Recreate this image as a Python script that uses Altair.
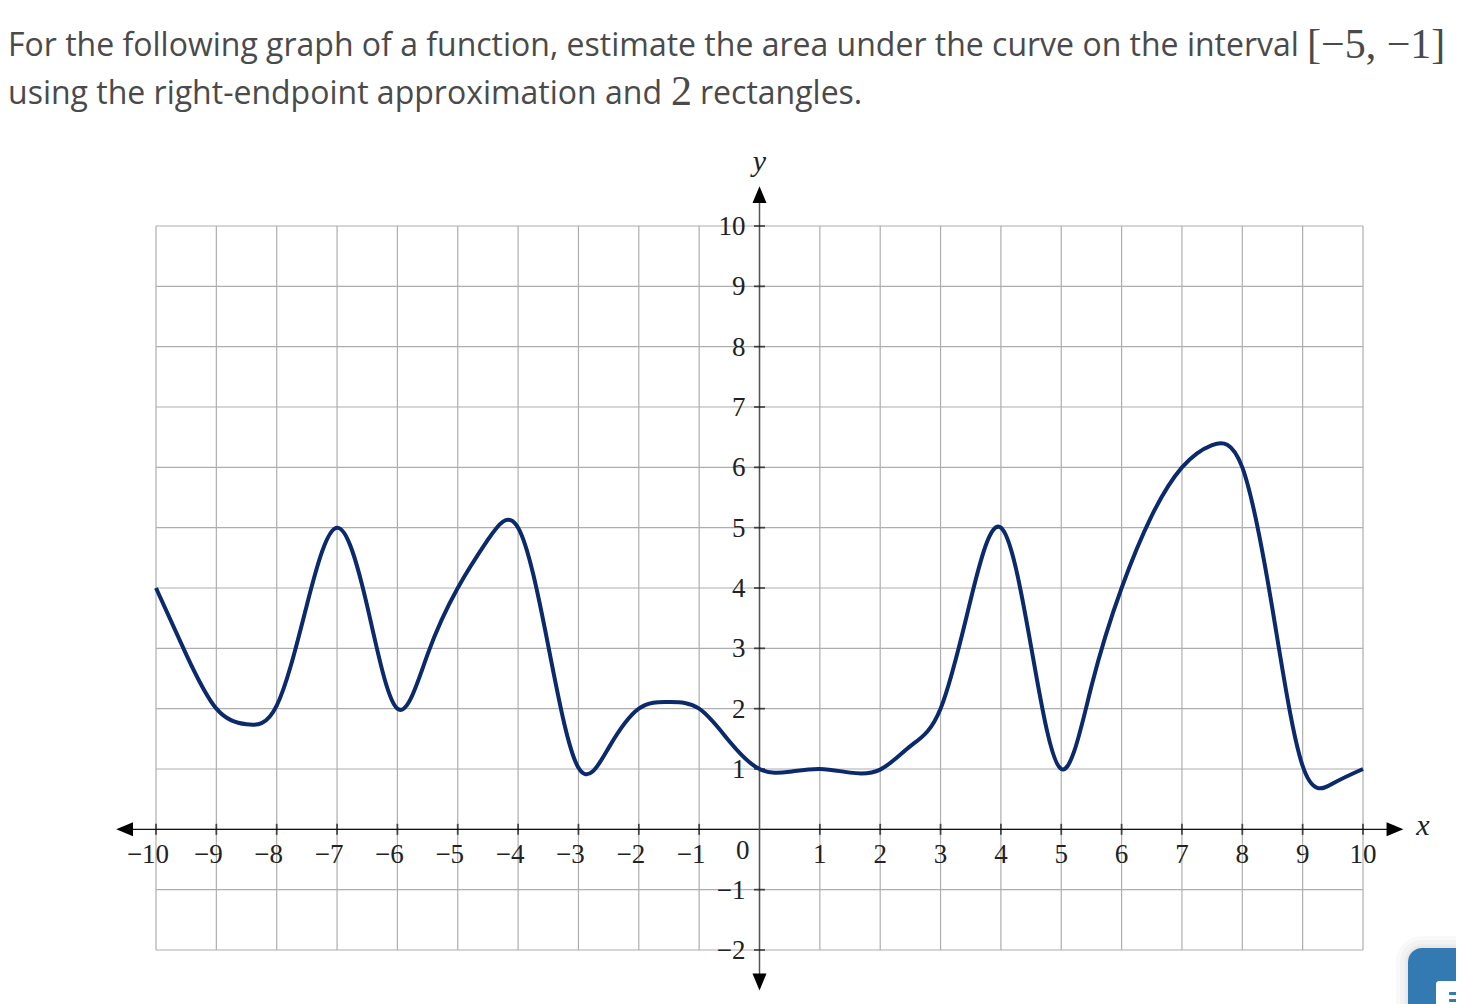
import altair as alt
import pandas as pd

curve_x = [-10, -9.5, -9, -8.5, -8, -7.5, -7, -6.5, -6, -5.5, -5, -4.5, -4, -3.5, -3, -2.5, -2, -1.5, -1, -0.5,
           0, 0.5, 1, 1.5, 2, 2.5, 3, 3.5, 4, 4.5, 5, 5.5, 6, 6.5, 7, 7.5, 8, 8.5, 9, 9.5, 10]
curve_y = [4, 2.9, 2.0, 1.74, 2.05, 3.72, 5, 3.7, 2.0, 2.9, 4.0, 4.8, 5.0, 3.04, 1.02, 1.35, 2.0, 2.11, 2.0, 1.46,
           1.0, 0.955, 1.0, 0.94, 0.99, 1.38, 2.0, 3.81, 5.0, 3.03, 1.0, 2.37, 4.0, 5.2, 6.0, 6.37, 6.0, 3.65, 1.05, 0.76, 1.0]

x_ticks = [i for i in range(-10, 11) if i != 0]
y_ticks = [i for i in range(-2, 11) if i != 0]
x_grid = list(range(-10, 11))
y_grid = list(range(-2, 11))
x_neg = [i for i in x_ticks if i < 0]
x_pos = [i for i in x_ticks if i > 0]
x_arrow_ends = [-10.52, 10.53]
y_arrow_ends = [-2.53, 10.52]

FONT_BODY = "Open Sans"
FONT_MATH = "Liberation Serif"
TXT = "#4a4a4a"
GRID = "#aeaeae"
NAVY = "#0b2a6b"
WIDGET = "#337ab3"

W, H = 1207, 724
xs = alt.Scale(domain=[-10, 10], nice=False, zero=False, clamp=False)
ys = alt.Scale(domain=[-2, 10], nice=False, zero=False, clamp=False)
X = lambda f: alt.X(f, type="quantitative", scale=xs, axis=None)
Y = lambda f: alt.Y(f, type="quantitative", scale=ys, axis=None)


def lab(s):
    return "\u2212" + str(-s) if s < 0 else str(s)


vgrid = alt.Chart(pd.DataFrame({"x": x_grid, "y": [-2] * len(x_grid), "y2": [10] * len(x_grid)})).mark_rule(
    color=GRID, strokeWidth=1.2).encode(x=X("x"), y=Y("y"), y2="y2")
hgrid = alt.Chart(pd.DataFrame({"y": y_grid, "x": [-10] * len(y_grid), "x2": [10] * len(y_grid)})).mark_rule(
    color=GRID, strokeWidth=1.2).encode(y=Y("y"), x=X("x"), x2="x2")

hline = alt.Chart(pd.DataFrame({"x": [x_arrow_ends[0]], "x2": [x_arrow_ends[1]], "y": [0]})).mark_rule(
    color="#111111", strokeWidth=1.3).encode(x=X("x"), x2="x2", y=Y("y"))
vline = alt.Chart(pd.DataFrame({"y": [y_arrow_ends[0]], "y2": [y_arrow_ends[1]], "x": [0]})).mark_rule(
    color="#555555", strokeWidth=1.5).encode(y=Y("y"), y2="y2", x=X("x"))

xt = alt.Chart(pd.DataFrame({"x": x_ticks, "y": [0] * len(x_ticks)})).mark_tick(
    orient="vertical", color="#111111", size=11, thickness=1.8).encode(x=X("x"), y=Y("y"))
yt = alt.Chart(pd.DataFrame({"x": [0] * len(y_ticks), "y": y_ticks})).mark_tick(
    orient="horizontal", color="#111111", size=11, thickness=1.8).encode(x=X("x"), y=Y("y"))

arrow_h = "M-1.2,0 L1.2,-1 L1.2,1 Z"
arrow_up = "M0,-1.2 L-1,1.2 L1,1.2 Z"
arrow_dn = "M0,1.2 L-1,-1.2 L1,-1.2 Z"
arrow_r = "M1.2,0 L-1.2,-1 L-1.2,1 Z"


def arrow(x, y, shape):
    return alt.Chart(pd.DataFrame({"x": [x], "y": [y]})).mark_point(
        shape=shape, size=196, filled=True, color="#000000", opacity=1, strokeWidth=0
    ).encode(x=X("x"), y=Y("y"))


arrows = [arrow(x_arrow_ends[0], 0, arrow_h), arrow(x_arrow_ends[1], 0, arrow_r),
          arrow(0, y_arrow_ends[1], arrow_up), arrow(0, y_arrow_ends[0], arrow_dn)]

curve = alt.Chart(pd.DataFrame({"x": curve_x, "y": curve_y})).mark_line(
    color=NAVY, strokeWidth=4, interpolate="natural", clip=False).encode(
    x=X("x"), y=Y("y"), order="x:Q")

TICK_FS = 27
LAB = "#222222"
xneg = alt.Chart(pd.DataFrame({"x": x_neg, "y": [0] * len(x_neg), "t": [lab(v) for v in x_neg]})).mark_text(
    font=FONT_MATH, fontSize=TICK_FS, color=LAB, align="center", baseline="middle", dx=-8, dy=26).encode(
    x=X("x"), y=Y("y"), text="t:N")
xpos = alt.Chart(pd.DataFrame({"x": x_pos, "y": [0] * len(x_pos), "t": [lab(v) for v in x_pos]})).mark_text(
    font=FONT_MATH, fontSize=TICK_FS, color=LAB, align="center", baseline="middle", dy=26).encode(
    x=X("x"), y=Y("y"), text="t:N")
ylab = alt.Chart(pd.DataFrame({"x": [0] * len(y_ticks), "y": y_ticks, "t": [lab(v) for v in y_ticks]})).mark_text(
    font=FONT_MATH, fontSize=TICK_FS, color=LAB, align="right", baseline="middle", dx=-14, dy=1).encode(
    x=X("x"), y=Y("y"), text="t:N")
zero = alt.Chart(pd.DataFrame({"x": [0], "y": [0], "t": ["0"]})).mark_text(
    font=FONT_MATH, fontSize=TICK_FS, color=LAB, align="right", baseline="middle", dx=-10, dy=22).encode(
    x=X("x"), y=Y("y"), text="t:N")
xname = alt.Chart(pd.DataFrame({"x": [x_arrow_ends[1]], "y": [0], "t": ["x"]})).mark_text(
    font=FONT_MATH, fontStyle="italic", fontSize=30, color=LAB, baseline="middle", dx=28, dy=-3).encode(
    x=X("x"), y=Y("y"), text="t:N")
yname = alt.Chart(pd.DataFrame({"x": [0], "y": [y_arrow_ends[1]], "t": ["y"]})).mark_text(
    font=FONT_MATH, fontStyle="italic", fontSize=30, color=LAB, baseline="middle", dy=-33).encode(
    x=X("x"), y=Y("y"), text="t:N")

OX, OY = 148, 218  # plot-area origin inside the canvas


def page_text(txt, left, base, font, size, color=TXT):
    return alt.Chart(pd.DataFrame({"a": [0]})).mark_text(
        font=font, fontSize=size, color=color, align="left", baseline="alphabetic").encode(
        x=alt.value(left - 8 - OX), y=alt.value(base - 8 - OY), text=alt.value(txt))


texts = [
    page_text("For the following graph of a function, estimate the area under the curve on the interval",
              8, 56, FONT_BODY, 32),
    page_text("[\u22125, \u22121]", 1307, 58, FONT_MATH, 42),
    page_text("using the right-endpoint approximation and", 8, 104, FONT_BODY, 32),
    page_text("2", 671, 105, FONT_MATH, 42),
    page_text("rectangles.", 700, 104, FONT_BODY, 32),
]


def page_rect(x0, y0, x1, y1, color, radius=0, opacity=1.0):
    return alt.Chart(pd.DataFrame({"a": [0]})).mark_rect(
        color=color, cornerRadius=radius, opacity=opacity).encode(
        x=alt.value(x0 - 8 - OX), x2=alt.value(x1 - 8 - OX),
        y=alt.value(y0 - 8 - OY), y2=alt.value(y1 - 8 - OY))


widget = [page_rect(1408 - d, 948 - d, 1490, 1030, "#000000", 14 + d, 0.025) for d in (12, 8, 4, 2)]
widget += [
    page_rect(1408, 948, 1490, 1030, WIDGET, 14),
    page_rect(1436, 981, 1470, 1020, "#ffffff", 3),
    page_rect(1449, 992, 1470, 995, WIDGET, 1),
    page_rect(1449, 999, 1470, 1002, WIDGET, 1),
]

chart = alt.layer(
    vgrid, hgrid, hline, vline, xt, yt, *arrows, curve, xneg, xpos, ylab, zero, xname, yname, *texts, *widget
).properties(
    width=W, height=H,
    autosize=alt.AutoSizeParams(type="none"),
    padding=alt.Padding(left=OX, top=OY, right=1448 - OX - W, bottom=996 - OY - H),
).configure_view(stroke=None)

chart.save("out.html", embed_options={"renderer": "svg", "actions": False})
